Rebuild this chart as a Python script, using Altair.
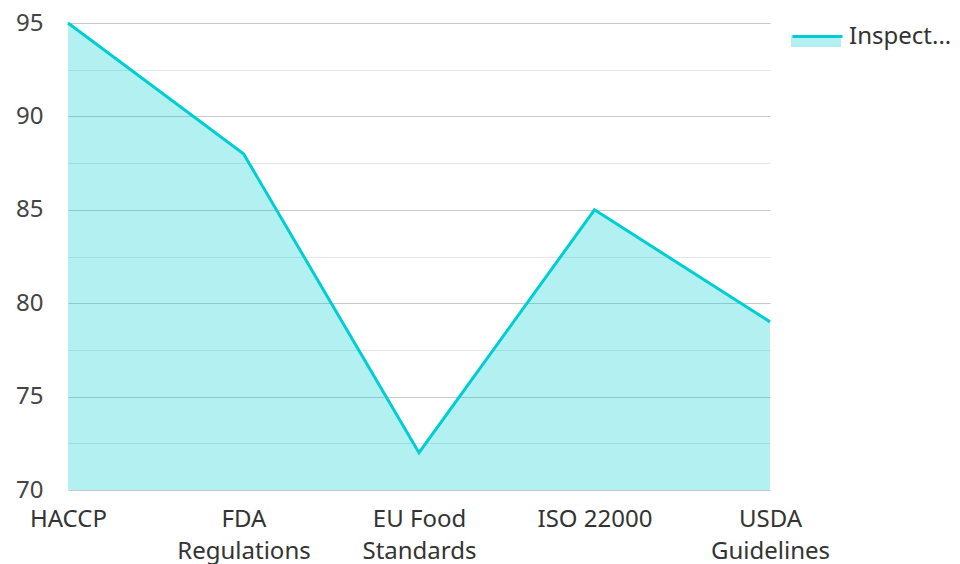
import altair as alt
import pandas as pd

categories = ["HACCP", "FDA Regulations", "EU Food Standards", "ISO 22000", "USDA Guidelines"]
scores = [95, 88, 72, 85, 79]
series_name = "Inspection Compliance Score"
y_ticks = [70, 72.5, 75, 77.5, 80, 82.5, 85, 87.5, 90, 92.5, 95]
y_min, y_max = 70, 95

df = pd.DataFrame({
    "standard": categories,
    "score": scores,
    "series": [series_name] * len(categories),
    "series_line": [series_name + " "] * len(categories),
})

label_expr = (
    "length(datum.label) > 10 ? "
    "[slice(datum.label, 0, lastindexof(datum.label, ' ')), "
    "slice(datum.label, lastindexof(datum.label, ' ') + 1)] : datum.label"
)

x_enc = alt.X(
    "standard:N",
    sort=categories,
    scale=alt.Scale(type="point", padding=0),
    axis=alt.Axis(
        title=None, labelAngle=0, labelFontSize=24, labelLineHeight=32,
        labelExpr=label_expr, domain=False, ticks=False, grid=False,
        labelPadding=17, labelColor="#333333", labelOverlap=False, labelBound=False,
    ),
)
y_enc = alt.Y(
    "score:Q",
    scale=alt.Scale(domain=[y_min, y_max], nice=False, zero=False),
    axis=alt.Axis(
        values=y_ticks, title=None, domain=False, ticks=False,
        labelFontSize=24, labelPadding=25, labelColor="#444444",
        labelExpr="datum.value % 5 === 0 ? datum.label : ''",
        gridColor={"condition": {"test": "datum.value % 5 === 0", "value": "#c8c8c8"}, "value": "#e6e6e6"},
        gridWidth=1.2,
    ),
)

LX, LY = 723, -11
legend_label = "length(datum.label) > 8 ? slice(datum.label, 0, 7) + '...' : datum.label"

area = alt.Chart(df).mark_area(opacity=0.3).encode(
    x=x_enc,
    y=y_enc,
    y2=alt.Y2(datum=y_min),
    fill=alt.Fill(
        "series:N",
        scale=alt.Scale(range=["#00CED1"]),
        legend=alt.Legend(
            title=None, orient="none", legendX=LX, legendY=LY,
            symbolType="M-1,-0.08L1,-0.08L1,0.4L-1,0.4Z",
            symbolSize=2500, symbolOpacity=0.3, symbolStrokeWidth=0,
            labelFontSize=24, labelLimit=200, labelOffset=8, labelColor="#333333",
            labelExpr=legend_label,
        ),
    ),
)

line = alt.Chart(df).mark_line(strokeWidth=3).encode(
    x=x_enc,
    y=y_enc,
    stroke=alt.Stroke(
        "series_line:N",
        scale=alt.Scale(range=["#00CED1"]),
        legend=alt.Legend(
            title=None, orient="none", legendX=LX, legendY=LY,
            symbolType="M-1,-0.08L1,-0.08",
            symbolSize=2500, symbolStrokeWidth=3,
            labelFontSize=24, labelLimit=200, labelOffset=8, labelOpacity=0,
            labelExpr="''",
        ),
    ),
)

chart = alt.layer(area, line).properties(
    width=702,
    height=467,
    autosize=alt.AutoSizeParams(type="none"),
    padding={"left": 60, "top": 15, "right": 182, "bottom": 74},
).configure(font="Noto Sans").configure_view(stroke=None)

chart.save("out.html", embed_options={"renderer": "svg", "actions": False})
